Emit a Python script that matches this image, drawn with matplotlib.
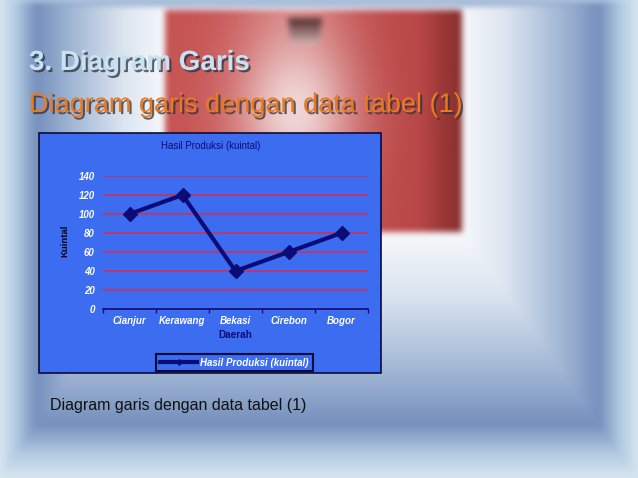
import numpy as np
import matplotlib
matplotlib.use("Agg")
import matplotlib.pyplot as plt
from matplotlib import patheffects as pe
from matplotlib.patches import Rectangle

# ---------------- data ----------------
categories = ["Cianjur", "Kerawang", "Bekasi", "Cirebon", "Bogor"]
values = [100, 120, 40, 60, 80]
yticks = [0, 20, 40, 60, 80, 100, 120, 140]
series_label = "Hasil Produksi (kuintal)"
chart_title = "Hasil Produksi (kuintal)"
x_label = "Daerah"
y_label = "Kuintal"
slide_title = "3. Diagram Garis"
slide_subtitle = "Diagram garis dengan data tabel (1)"
caption = "Diagram garis dengan data tabel (1)"

W, H = 638, 478
FONT = ["Liberation Sans", "DejaVu Sans"]
NAVY = "#0c0c78"
BLUE = "#3c6cf0"
GRID = "#c43468"


def hex2rgb(h):
    h = h.lstrip("#")
    return np.array([int(h[i:i + 2], 16) / 255 for i in (0, 2, 4)])


def interp_colors(t, stops, cols):
    arr = np.array([hex2rgb(c) for c in cols])
    return np.stack([np.interp(t, stops, arr[:, k]) for k in range(3)], -1)


def box_blur(a, r):
    out = a
    for axis in (0, 1):
        m = np.moveaxis(out, axis, 0)
        p = np.concatenate([np.repeat(m[:1], r, 0), m, np.repeat(m[-1:], r, 0)], 0)
        c = np.cumsum(p, 0)
        c = np.concatenate([np.zeros_like(c[:1]), c], 0)
        res = (c[2 * r + 1:] - c[:-2 * r - 1]) / (2 * r + 1)
        out = np.moveaxis(res, 0, axis)
    return out


# ---------------- background (slide) ----------------
yy, xx = np.mgrid[0:H, 0:W].astype(float) + 0.5
x0, x1, y0, y1 = 165, 462, 10, 232
uL = (x0 - xx) / x0
uR = (xx - x1) / (W - x1)
uT = (y0 - yy) / y0
uB = (yy - y1) / (H - y1)
u = np.maximum.reduce([uL, uR, uT, uB])
wall_stops = [0.0, 0.25, 0.55, 0.78, 0.9, 1.0]
wall_cols = ["#f6f8fb", "#dce5f0", "#a4b9d6", "#7690bd", "#b2cae2", "#d8e6f0"]
img = interp_colors(np.clip(u, 0, 1), wall_stops, wall_cols)

inside = u <= 0
red_side = interp_colors(xx, [165, 300, 420, 445, 462],
                         ["#c65454", "#c84e4e", "#b84646", "#983636", "#8a3030"])
g = np.exp(-((xx - 295) / 60) ** 2) * (0.35 + 0.65 * np.exp(-((yy - 110) / 70) ** 2))
pink = hex2rgb("#f0d6d6")
red = red_side * (1 - g[..., None]) + pink * g[..., None]
img[inside] = red[inside]

lamp = (yy >= 18) & (yy <= 45) & (xx >= 288 + (yy - 18) * 0.1) & (xx <= 322 - (yy - 18) * 0.1)
lamp_col = interp_colors((yy - 18) / 27, [0, 1], ["#4e2a2a", "#d8b4b4"])
img[lamp] = lamp_col[lamp]

img = box_blur(box_blur(img, 3), 3)

fig = plt.figure(figsize=(6.38, 4.78), dpi=100)
bg = fig.add_axes([0, 0, 1, 1], zorder=-1)
bg.imshow(np.clip(img, 0, 1), extent=(0, W, H, 0), aspect="auto", interpolation="bilinear")
bg.set_axis_off()

# ---------------- slide texts ----------------
shadow = [pe.SimplePatchShadow(offset=(1.5, -1.5), shadow_rgbFace="#30303c", alpha=0.75), pe.Normal()]
fig.text(29 / W, 1 - 70 / H, slide_title, fontsize=20, fontweight="bold", color="#c6e3f3",
         family=FONT, va="baseline", ha="left", path_effects=shadow)
fig.text(29 / W, 1 - 112 / H, slide_subtitle, fontsize=19.5, color="#ea7a20",
         family=FONT, va="baseline", ha="left", path_effects=shadow)
fig.text(50 / W, 1 - 410 / H, caption, fontsize=11.5, color="#101010",
         family=FONT, va="baseline", ha="left")

# ---------------- chart box ----------------
fig.add_artist(Rectangle((39 / W, 1 - 373 / H), (381 - 39) / W, (373 - 133) / H,
                         transform=fig.transFigure, facecolor=BLUE, edgecolor="#0b0b3a",
                         linewidth=1.2, zorder=1))

ax = fig.add_axes([103 / W, 1 - 309 / H, 265 / W, 133 / H], zorder=2)
ax.patch.set_alpha(0)
x = np.arange(len(categories))
line, = ax.plot(x, values, color=NAVY, lw=3, marker="D", ms=7, mec=NAVY, mfc=NAVY,
                label=series_label, zorder=3)
ax.set_xlim(-0.5, len(categories) - 0.5)
ax.set_ylim(yticks[0], yticks[-1])
ax.set_yticks(yticks)
ax.grid(axis="y", color=GRID, lw=1.3)
ax.set_xticks(x, categories)
ax.set_xticks(np.arange(-0.5, len(categories), 1), minor=True)
ax.tick_params(axis="x", which="major", length=0, pad=5, labelcolor="white")
ax.tick_params(axis="x", which="minor", length=3, color=NAVY, width=1, direction="out")
ax.tick_params(axis="y", length=0, pad=6, labelcolor="white")
for lab in ax.get_xticklabels() + ax.get_yticklabels():
    lab.set_fontweight("bold")
    lab.set_fontstyle("italic")
    lab.set_fontsize(7)
    lab.set_family(FONT)
for s in ("top", "right", "left"):
    ax.spines[s].set_visible(False)
ax.spines["bottom"].set_color(NAVY)
ax.spines["bottom"].set_linewidth(1.2)

fig.text(211 / W, 1 - 146 / H, chart_title, fontsize=7, color=NAVY, family=FONT,
         ha="center", va="center")
fig.text(235 / W, 1 - 335 / H, x_label, fontsize=7.2, color=NAVY, fontweight="bold",
         family=FONT, ha="center", va="center")
fig.text(65 / W, 1 - 241 / H, y_label, fontsize=6.8, color="#050510", fontweight="bold",
         family=["Liberation Sans Narrow", "Liberation Sans", "DejaVu Sans"],
         rotation=90, ha="center", va="center")

leg = fig.legend(handles=[line], loc="center", bbox_to_anchor=(234.5 / W, 1 - 362.5 / H),
                 fontsize=7, markerscale=0.4, handlelength=3.8, handletextpad=0.35,
                 borderpad=0.4, frameon=True, fancybox=False, facecolor=BLUE,
                 edgecolor="#0b0b3a", framealpha=1)
leg.get_frame().set_linewidth(1.5)
leg.set_zorder(3)
for t in leg.get_texts():
    t.set_color("white")
    t.set_fontweight("bold")
    t.set_fontstyle("italic")
    t.set_family(FONT)

fig.savefig("out.png", dpi=100)
